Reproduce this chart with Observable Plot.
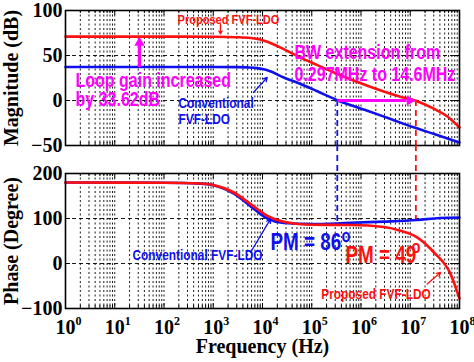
<!DOCTYPE html>
<html><head><meta charset="utf-8">
<script src="https://cdn.jsdelivr.net/npm/d3@7"></script>
<script src="https://cdn.jsdelivr.net/npm/@observablehq/plot@0.6"></script>
<style>
body{margin:0;background:#fff;}
#wrap{position:relative;width:474px;height:362px;overflow:hidden;background:#fff}
#wrap svg{position:absolute;left:0;background:transparent;overflow:visible}
</style></head><body><div id="wrap"></div>
<script>
// ---------- data ----------
const decades = [1, 1e1, 1e2, 1e3, 1e4, 1e5, 1e6, 1e7, 1e8];
const exponents = ["0", "1", "2", "3", "4", "5", "6", "7", "8"];
const minorMult = [2, 3, 4, 5, 6, 7, 8, 9];
const magTicks = [-50, 0, 50, 100];
const phaseTicks = [-100, 0, 100, 200];

// magnitude (dB)
const redMagF = [1, 100, 1000, 3000, 5800, 7900, 10000, 12600, 27000, 59000, 126000, 282000, 1350000, 6300000, 13000000, 30000000, 56000000, 100000000];
const redMagV = [71, 71, 70.8, 70.3, 69.4, 68.3, 67, 65.2, 57, 47.7, 39.6, 31.1, 16.4, 4.2, -0.2, -9.1, -17.5, -30];
const blueMagF = [1, 100, 1000, 3160, 5000, 7800, 10000, 12600, 27000, 59000, 126000, 330000, 1350000, 4000000, 11700000, 31600000, 100000000];
const blueMagV = [37.3, 37.3, 37.2, 37.1, 36.8, 36.0, 35.0, 33.5, 25.6, 18.3, 10.5, 0.3, -11.3, -20.6, -29.8, -37.5, -46.6];

// phase (degree)
const redPhF = [1, 100, 550, 1000, 2630, 5750, 12600, 27000, 93000, 620000, 2900000, 6300000, 13800000, 30000000, 66000000, 100000000];
const redPhV = [180, 179.5, 177.8, 174.5, 157.8, 132, 106, 92.7, 86, 85.5, 81, 72.7, 58, 25, -23.6, -78];
const bluePhF = [1, 100, 550, 1000, 2630, 5750, 12600, 27000, 93000, 316000, 620000, 2900000, 13800000, 40000000, 100000000];
const bluePhV = [180, 179.5, 177.5, 174, 155, 127, 100, 90, 87.5, 89, 90.5, 93, 96.5, 101, 102];

// crossover / bandwidth markers
const crossF = [330000, 13000000];
const crossColor = ["#1010ee", "#ff1010"];
const crossPhaseEnd = [90, 98];

// annotation texts (top panel)
const topLabels = ["Proposed FVF-LDO", "Loop gain increased", "by 33.62dB", "Conventional", "FVF-LDO", "BW extension from", "0.297MHz to 14.6MHz"];
const topLabelF = [188, 1.6, 1.6, 197, 197, 44700, 44700];
const topLabelV = [90.3, 21.9, 0.3, -3, -21.3, 53.5, 28.5];
const topLabelColor = ["#ff1010", "#ff00ff", "#ff00ff", "#1010ee", "#1010ee", "#ff00ff", "#ff00ff"];
const topLabelSize = [13.5, 19.5, 19.5, 14.5, 14.5, 19.5, 19.5];

// annotation texts (bottom panel)
const botLabels = ["Conventional FVF-LDO", "PM = 86", "o", "PM = 49", "o", "Proposed FVF-LDO"];
const botLabelF = [22.9, 14530, 402000, 484000, 10600000, 155600];
const botLabelV = [17.1, 46, 61.6, 17, 35.5, -69.6];
const botLabelColor = ["#1010ee", "#1010ee", "#1010ee", "#ff1010", "#ff1010", "#ff1010"];
const botLabelSize = [14.5, 23, 18, 23, 18, 14.5];

// small pointer arrows
const topArrows = [
  {f1: 1400, v1: 85, f2: 1400, v2: 74, c: "#ff1010"},
  {f1: 6560, v1: 9, f2: 12450, v2: 25.6, c: "#1010ee"}
];
const botArrows = [
  {f1: 5700, v1: 24.4, f2: 14520, v2: 98.7, c: "#1010ee"},
  {f1: 22100000, v1: -45.8, f2: 41100000, v2: -20, c: "#ff1010"}
];
// magenta arrows: loop gain (vertical) and BW extension (horizontal)
const gainArrow = {f: 31.8, from: 37, to: 61.5, head: 64.2};
const bwArrow = {from: 330000, to: 8400000, head: 9750000, v: 0};

// ---------- helpers ----------
const zip = (fs, vs) => fs.map((f, i) => ({f, v: vs[i]}));
const minors = decades.slice(0, -1).flatMap(d => minorMult.map(k => k * d));
const serif = "'Liberation Serif', 'Times New Roman', serif";
const sans = "'Liberation Sans', Arial, sans-serif";
const W = 474, ML = 65, MR = 15;
const magenta = "#ff00ff";

function gridMarks(hTicks, frameH) {
  return [
    Plot.ruleX(minors, {stroke: "#000", strokeWidth: 0.9, strokeDasharray: "2,2.5"}),
    Plot.ruleX(decades, {stroke: "#000", strokeWidth: 0.9, strokeDasharray: "2,2.5"}),
    Plot.ruleY(hTicks, {stroke: "#000", strokeWidth: 0.9, strokeDasharray: "4,3"}),
    // inward ticks
    Plot.ruleX(minors, {stroke: "#000", strokeWidth: 1, insetTop: frameH - 3}),
    Plot.ruleX(minors, {stroke: "#000", strokeWidth: 1, insetBottom: frameH - 3}),
    Plot.ruleX(decades, {stroke: "#000", strokeWidth: 1, insetTop: frameH - 5}),
    Plot.ruleX(decades, {stroke: "#000", strokeWidth: 1, insetBottom: frameH - 5}),
    Plot.tickY(hTicks, {stroke: "#000", strokeWidth: 1, insetRight: W - ML - MR - 5}),
    Plot.tickY(hTicks, {stroke: "#000", strokeWidth: 1, insetLeft: W - ML - MR - 5})
  ];
}

// ---------- top panel ----------
const topH = 150, topMT = 10, topMB = 5;
const topFrameH = topH - topMT - topMB;
const topPlot = Plot.plot({
  width: W, height: topH, marginLeft: ML, marginRight: MR, marginTop: topMT, marginBottom: topMB,
  style: {background: "transparent", color: "#000", overflow: "visible"},
  x: {type: "log", domain: [1, 1e8], axis: null},
  y: {domain: [-50, 100]},
  marks: [
    ...gridMarks([0, 50], topFrameH),
    Plot.line(zip(blueMagF, blueMagV), {x: "f", y: "v", stroke: "#1010ee", strokeWidth: 2.6, curve: "monotone-x"}),
    Plot.line(zip(redMagF, redMagV), {x: "f", y: "v", stroke: "#ff1010", strokeWidth: 2.6, curve: "monotone-x"}),
    Plot.ruleX(crossF, {x: d => d, y1: 0, y2: -50, stroke: (d, i) => crossColor[i], strokeWidth: 1.8, strokeDasharray: "6,4"}),
    Plot.link([gainArrow], {x1: "f", x2: "f", y1: "from", y2: "to", stroke: magenta, strokeWidth: 3.2}),
    Plot.dot([gainArrow], {x: "f", y: "head", symbol: "triangle", r: 3.8, fill: magenta, stroke: null}),
    Plot.link([bwArrow], {x1: "from", x2: "to", y1: "v", y2: "v", stroke: magenta, strokeWidth: 3.2}),
    Plot.dot([bwArrow], {x: "head", y: "v", symbol: "triangle", r: 3.8, fill: magenta, stroke: null, rotate: 90}),
    Plot.arrow(topArrows, {x1: "f1", y1: "v1", x2: "f2", y2: "v2", stroke: "c", strokeWidth: 1.3, headLength: 5}),
    Plot.text(topLabels, {x: (d, i) => topLabelF[i], y: (d, i) => topLabelV[i], text: d => d, fill: (d, i) => topLabelColor[i],
      fontSize: (d, i) => topLabelSize[i], fontFamily: sans, fontWeight: "bold", textAnchor: "start", className: "ann"}),
    Plot.frame({stroke: "#000", strokeWidth: 1.6}),
    Plot.axisY(magTicks, {tickSize: 0, tickPadding: 3, fontSize: 20, fontWeight: "bold", fontFamily: serif, label: null}),
    Plot.text(["Magnitude (dB)"], {frameAnchor: "left", rotate: -90, dx: -54, textAnchor: "middle", text: d => d, fontSize: 20, fontWeight: "bold", fontFamily: serif, fill: "#000"})
  ]
});

// ---------- bottom panel ----------
const botTop = 145, botH = 362 - botTop, botMT = 28, botMB = 54;
const botFrameH = botH - botMT - botMB;
const botPlot = Plot.plot({
  width: W, height: botH, marginLeft: ML, marginRight: MR, marginTop: botMT, marginBottom: botMB,
  style: {background: "transparent", color: "#000", overflow: "visible"},
  x: {type: "log", domain: [1, 1e8], axis: null},
  y: {domain: [-100, 200]},
  marks: [
    ...gridMarks([0, 100], botFrameH),
    Plot.ruleX(crossF, {x: d => d, y1: 200, y2: (d, i) => crossPhaseEnd[i], insetTop: -botMT, stroke: (d, i) => crossColor[i], strokeWidth: 1.8, strokeDasharray: "6,4"}),
    Plot.line(zip(bluePhF, bluePhV), {x: "f", y: "v", stroke: "#1010ee", strokeWidth: 2.6, curve: "monotone-x"}),
    Plot.line(zip(redPhF, redPhV), {x: "f", y: "v", stroke: "#ff1010", strokeWidth: 2.6, curve: "monotone-x"}),
    Plot.arrow(botArrows, {x1: "f1", y1: "v1", x2: "f2", y2: "v2", stroke: "c", strokeWidth: 1.3, headLength: 5}),
    Plot.text(botLabels, {x: (d, i) => botLabelF[i], y: (d, i) => botLabelV[i], text: d => d, fill: (d, i) => botLabelColor[i],
      fontSize: (d, i) => botLabelSize[i], fontFamily: sans, fontWeight: "bold", textAnchor: "start", className: "ann"}),
    Plot.frame({stroke: "#000", strokeWidth: 1.6}),
    Plot.axisY(phaseTicks, {tickSize: 0, tickPadding: 3, fontSize: 20, fontWeight: "bold", fontFamily: serif, label: null}),
    Plot.text(decades, {x: d => d, frameAnchor: "bottom", dy: 25, textAnchor: "middle", text: () => "10", fontSize: 20, fontWeight: "bold", fontFamily: serif, fill: "#000"}),
    Plot.text(decades, {x: d => d, frameAnchor: "bottom", dy: 16, dx: 10, text: (d, i) => exponents[i], textAnchor: "start", fontSize: 12, fontWeight: "bold", fontFamily: serif, fill: "#000"}),
    Plot.text(["Phase (Degree)"], {frameAnchor: "left", rotate: -90, dx: -54, textAnchor: "middle", text: d => d, fontSize: 20, fontWeight: "bold", fontFamily: serif, fill: "#000"}),
    Plot.text(["Frequency (Hz)"], {frameAnchor: "bottom", dy: 44, textAnchor: "middle", text: d => d, fontSize: 20, fontWeight: "bold", fontFamily: serif, fill: "#000"})
  ]
});

// condense annotation text horizontally (the reference uses a narrow sans face)
function condense(svg, k) {
  svg.querySelectorAll(".ann text").forEach(t => {
    const tr = t.getAttribute("transform");
    if (tr) t.setAttribute("transform", tr + ` scale(${k},1)`);
    else {
      const x = +t.getAttribute("x") || 0, y = +t.getAttribute("y") || 0;
      t.setAttribute("transform", `translate(${x},${y}) scale(${k},1) translate(${-x},${-y})`);
    }
  });
}
condense(topPlot, 0.82);
condense(botPlot, 0.82);

const wrap = document.getElementById("wrap");
topPlot.style.top = "0px";
botPlot.style.top = botTop + "px";
wrap.appendChild(topPlot);
wrap.appendChild(botPlot);
</script>
</body></html>
